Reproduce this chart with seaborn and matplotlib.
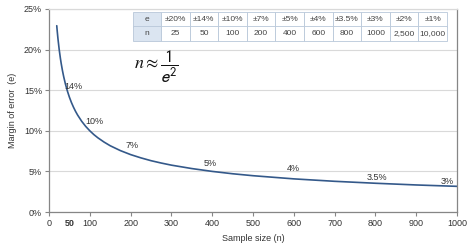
import matplotlib
matplotlib.use("Agg")
import matplotlib.pyplot as plt
import seaborn as sns
import pandas as pd
from matplotlib.ticker import FuncFormatter

# Data
sample_size = [19, 20, 22, 25, 28, 30, 33, 36, 40, 45, 50, 55, 60, 65, 70, 80, 90,
               100, 110, 120, 135, 150, 175, 200, 225, 250, 275, 300, 350, 400,
               450, 500, 600, 700, 800, 900, 1000]
margin = [0.2294, 0.2236, 0.2132, 0.2000, 0.1890, 0.1826, 0.1741, 0.1667, 0.1581,
          0.1491, 0.1414, 0.1348, 0.1291, 0.1240, 0.1195, 0.1118, 0.1054, 0.1000,
          0.0953, 0.0913, 0.0861, 0.0816, 0.0756, 0.0707, 0.0667, 0.0632, 0.0603,
          0.0577, 0.0535, 0.0500, 0.0471, 0.0447, 0.0408, 0.0378, 0.0354, 0.0333,
          0.0316]

label_text = ["14%", "10%", "7%", "5%", "4%", "3.5%", "3%"]
label_n = [59, 112, 203, 395, 598, 805, 977]
label_e = [0.155, 0.112, 0.0825, 0.060, 0.053, 0.043, 0.038]

table_e = ["±20%", "±14%", "±10%", "±7%", "±5%", "±4%", "±3.5%", "±3%", "±2%", "±1%"]
table_n = ["25", "50", "100", "200", "400", "600", "800", "1000", "2,500", "10,000"]

x_ticks = [0, 50, 100, 200, 300, 400, 500, 600, 700, 800, 900, 1000]
x_labels = ["0", "50", "100", "200", "300", "400", "500", "600", "700", "800", "900", "1000"]
y_ticks = [0, 0.05, 0.10, 0.15, 0.20, 0.25]

sns.set_theme(style="white")
plt.rcParams['font.family'] = ['Liberation Sans', 'DejaVu Sans']
plt.rcParams['mathtext.fontset'] = 'stix'

fig = plt.figure(figsize=(4.74, 2.45), dpi=100)
ax = fig.add_axes([49/474, 1-212/245, 408/474, 203/245])

df = pd.DataFrame({"n": sample_size, "e": margin})
sns.lineplot(data=df, x="n", y="e", ax=ax, color="#34598a", linewidth=1.2)

grey = "#868686"
txt = "#333333"
ax.set_xlim(0, 1000)
ax.set_ylim(0, 0.25)
ax.set_xticks(x_ticks)
ax.set_xticklabels(x_labels)
ax.set_yticks(y_ticks)
ax.yaxis.set_major_formatter(FuncFormatter(lambda v, p: f"{v*100:.0f}%"))
ax.grid(axis="y", color="#d9d9d9", linewidth=0.8)
ax.grid(axis="x", visible=False)
for s in ax.spines.values():
    s.set_visible(True)
    s.set_color(grey)
    s.set_linewidth(0.9)
ax.spines["top"].set_color("#d9d9d9")
ax.tick_params(axis="both", which="both", direction="out", length=3, width=0.8,
               color=grey, labelsize=6.5, labelcolor=txt, pad=2, bottom=True, left=True)
ax.xaxis.get_major_ticks()[1].tick1line.set_visible(False)
ax.get_xticklabels()[1].set_fontweight("bold")
ax.set_xlabel("Sample size (n)", fontsize=6.5, color=txt, labelpad=4)
ax.set_ylabel("Margin of error  (e)", fontsize=6.5, color=txt, labelpad=5)

for t, xn, ye in zip(label_text, label_n, label_e):
    ax.text(xn, ye, t, ha="center", va="center", fontsize=6.5, color=txt)

# formula
ax.text(0.262, 0.715, r"$n \approx \dfrac{\mathsf{1}}{\mathsf{e}^{\mathsf{2}}}$",
        transform=ax.transAxes, fontsize=13, color="#111111", ha="center", va="center")

# table
cell_text = [["e"] + table_e, ["n"] + table_n]
tbl = ax.table(cellText=cell_text, cellLoc="center",
               bbox=[(133-49)/408, (212-41)/203, (447-133)/408, 29/203],
               colWidths=[28] + [28.6]*10)
tbl.auto_set_font_size(False)
tbl.set_fontsize(6)
for (r, c), cell in tbl.get_celld().items():
    cell.set_edgecolor("#b8c7d9")
    cell.set_linewidth(0.6)
    cell.get_text().set_color("#444444")
    if c == 0:
        cell.set_facecolor("#dbe5f1")
    else:
        cell.set_facecolor("white")
    cell.PAD = 0.02

fig.savefig("out.png", dpi=100)
